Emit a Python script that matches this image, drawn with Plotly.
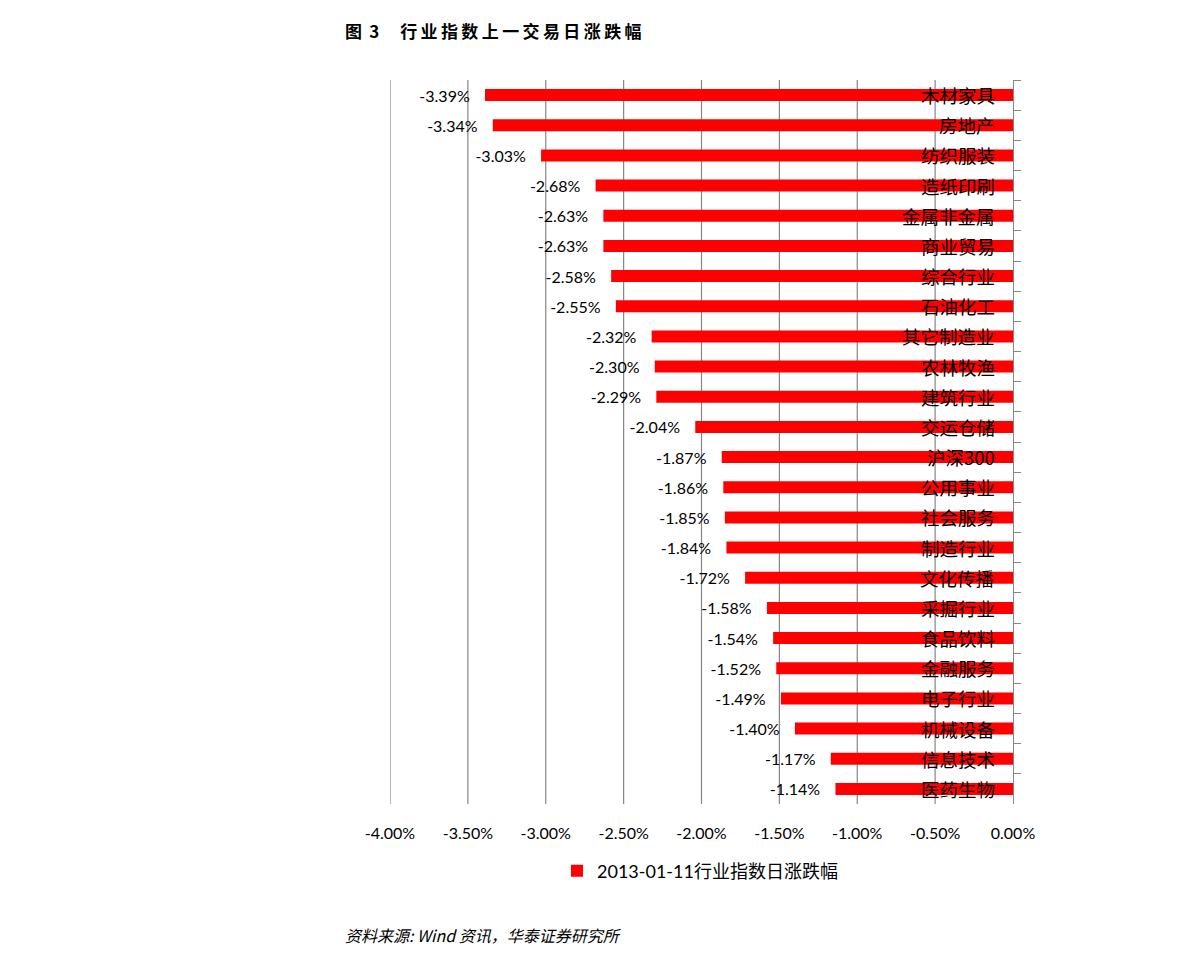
import plotly.graph_objects as go

categories = ["木材家具", "房地产", "纺织服装", "造纸印刷", "金属非金属", "商业贸易", "综合行业",
              "石油化工", "其它制造业", "农林牧渔", "建筑行业", "交运仓储", "沪深300", "公用事业",
              "社会服务", "制造行业", "文化传播", "采掘行业", "食品饮料", "金融服务", "电子行业",
              "机械设备", "信息技术", "医药生物"]
values_pct = [-3.39, -3.34, -3.03, -2.68, -2.63, -2.63, -2.58, -2.55, -2.32, -2.30, -2.29, -2.04,
              -1.87, -1.86, -1.85, -1.84, -1.72, -1.58, -1.54, -1.52, -1.49, -1.40, -1.17, -1.14]
series_name = "2013-01-11行业指数日涨跌幅"
x_ticks = [-0.04, -0.035, -0.03, -0.025, -0.02, -0.015, -0.01, -0.005, 0.0]
x_tick_labels = ["-4.00%", "-3.50%", "-3.00%", "-2.50%", "-2.00%", "-1.50%", "-1.00%", "-0.50%", "0.00%"]
title_text = "行业指数上一交易日涨跌幅"

values = [v / 100 for v in values_pct]
labels = ["%.2f%%\u00a0\u00a0\u00a0" % v for v in values_pct]

fig = go.Figure()
fig.add_trace(go.Bar(
    y=categories, x=values, orientation="h", name=series_name,
    marker=dict(color="#FF0000", line=dict(width=0)),
    width=0.4,
    text=labels, texttemplate="%{text}", textposition="outside",
    constraintext="none",
    textfont=dict(family="Lato, sans-serif", size=16, color="#000000"),
    cliponaxis=False,
))

annotations = []
for c in categories:
    annotations.append(dict(text=c, x=0, y=c, xref="x", yref="y", xanchor="right", yanchor="middle",
                            xshift=-16, showarrow=False,
                            font=dict(family="'Noto Sans CJK SC', serif", size=18.5, color="#000000")))

spaced_title = "\u2009".join(title_text)
annotations.append(dict(text="<b>图\u2009 3\u2003 " + spaced_title + "</b>", xref="paper", yref="paper",
                        x=(343 - 390) / 623, y=(804 - 30) / 724, xanchor="left", yanchor="middle",
                        showarrow=False, font=dict(family="'Noto Sans CJK SC', serif", size=17, color="#000000")))
annotations.append(dict(text="<i>资料来源: Wind 资讯，华泰证券研究所</i>", xref="paper", yref="paper",
                        x=(343 - 390) / 623, y=(804 - 935) / 724, xanchor="left", yanchor="middle",
                        showarrow=False, font=dict(family="'Noto Sans CJK SC', serif", size=16, color="#000000")))

shapes = []
for t in x_ticks[:-1]:
    shapes.append(dict(type="line", xref="x", yref="paper", x0=t, x1=t, y0=0, y1=1,
                       line=dict(color="#868686", width=1.2), layer="below"))

fig.update_layout(
    width=1191, height=964,
    paper_bgcolor="white", plot_bgcolor="white",
    margin=dict(l=390, r=178, t=80, b=160),
    showlegend=True,
    legend=dict(x=0.4976, y=-0.0925, xanchor="center", yanchor="middle",
                font=dict(family="Lato, 'Noto Sans CJK SC', sans-serif", size=18, color="#000000"),
                bgcolor="rgba(0,0,0,0)"),
    xaxis=dict(range=[-0.04, 0], tickvals=x_ticks, ticktext=x_tick_labels,
               showgrid=False, zeroline=False,
               showline=False, ticks="", ticklabelstandoff=18,
               tickfont=dict(family="Lato, sans-serif", size=16, color="#000000")),
    yaxis=dict(side="right", autorange="reversed", categoryorder="array", categoryarray=categories,
               showticklabels=False, ticks="outside", ticklen=7, tickcolor="#868686",
               tickson="boundaries", showline=True, linecolor="#868686", linewidth=1.2,
               showgrid=False),
    annotations=annotations,
    shapes=shapes,
)

fig.write_html("out.html", config={"displayModeBar": False})
